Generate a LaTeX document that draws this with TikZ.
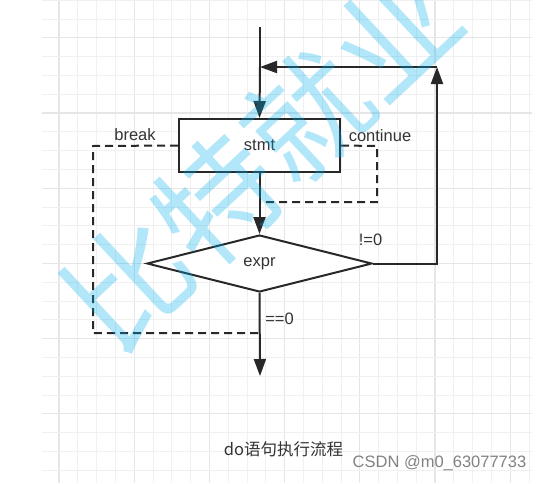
\documentclass[tikz,border=0pt]{standalone}
\usepackage{fontspec}
\setmainfont{Liberation Sans}
\newfontfamily\cjk{Noto Sans CJK SC}
\usetikzlibrary{arrows.meta,shapes.geometric}
\definecolor{gminor}{RGB}{240,240,240}
\definecolor{gmajor}{RGB}{230,230,230}
\definecolor{ink}{RGB}{40,40,40}
\definecolor{txt}{RGB}{51,51,51}
\definecolor{wm}{RGB}{0,176,240}
\definecolor{csdn}{RGB}{130,130,130}
\tikzset{
  solidline/.style={draw=ink,line width=2pt},
  arr/.style={solidline,-{Triangle[length=17pt,width=12pt]}},
  dashline/.style={draw=ink,line width=2pt,dash pattern=on 8pt off 5pt},
  lbl/.style={text=txt,font=\fontsize{16.5}{18}\selectfont,inner sep=0pt},
  boxnode/.style={draw=ink,line width=2pt,fill=white,minimum width=161pt,minimum height=53pt,inner sep=0pt,text=txt,font=\fontsize{16.5}{18}\selectfont},
  decision/.style={diamond,draw=ink,line width=2pt,fill=white,minimum width=225pt,minimum height=57pt,inner sep=0pt,text=txt,font=\fontsize{16.5}{18}\selectfont}
}
\begin{document}
\begin{tikzpicture}[x=1pt,y=-1pt]
\useasboundingbox (0,0) rectangle (543,483);
\fill[white] (0,0) rectangle (543,483);
% grid
\foreach \k in {0,...,25}{
  \pgfmathsetmacro{\gx}{59+18.8*\k}
  \pgfmathtruncatemacro{\m}{mod(\k,4)}
  \ifnum\m=0
    \draw[gmajor,line width=1.2pt] (\gx,0) -- (\gx,483);
  \else
    \draw[gminor,line width=1pt] (\gx,0) -- (\gx,483);
  \fi
}
\foreach \k in {0,...,25}{
  \pgfmathsetmacro{\gy}{0.2+18.8*\k}
  \pgfmathtruncatemacro{\m}{mod(\k,4)}
  \ifnum\m=2
    \draw[gmajor,line width=1.2pt] (42,\gy) -- (532,\gy);
  \else
    \draw[gminor,line width=1pt] (42,\gy) -- (532,\gy);
  \fi
}
% nodes
\node[boxnode] (stmt) at (259.5,145.5) {stmt};
\node[decision] (expr) at (259.5,263.5) {expr};
\coordinate (start) at (260,27);
\coordinate (join) at (260,67);
\coordinate (corner) at (437,67);
\coordinate (endp) at (260,376);
\coordinate (brk1) at (93,146);
\coordinate (brk2) at (93,333);
\coordinate (brk3) at (260,333);
\coordinate (cnt1) at (377,146);
\coordinate (cnt2) at (377,202);
\coordinate (cnt3) at (260,202);
% dashed break / continue
\draw[dashline] (stmt.west) -- (brk1) -- (brk2) -- (brk3);
\draw[dashline] (stmt.east) -- (cnt1) -- (cnt2) -- (cnt3);
% connectors
\draw[solidline] (start) -- (join);
\draw[arr] (join) -- (stmt.north);
\draw[arr] (stmt.south) -- (expr.north);
\draw[arr] (expr.east) -| (corner);
\draw[arr] (corner) -- (join);
\draw[arr] (expr.south) -- (endp);
% labels
\node[lbl] (lbreak) at (135,135) {break};
\node[lbl] (lcont) at (380,136) {continue};
\node[lbl] (lne) at (370.5,240) {!=0};
\node[lbl] (leq) at (279.5,319) {==0};
\node[text=txt,font=\cjk\fontsize{16.5}{18}\selectfont,inner sep=0pt] (cap) at (283.5,449) {do语句执行流程};
\node[text=csdn,font=\fontsize{16.5}{18}\selectfont,inner sep=0pt] (csdn) at (439.5,463) {CSDN @m0\_63077733};
% watermark
\node[text=wm,text opacity=0.3,font=\cjk\fontsize{122}{122}\selectfont,rotate=43,inner sep=0pt] (wmark) at (262,158) {比特就业};
\end{tikzpicture}
\end{document}
